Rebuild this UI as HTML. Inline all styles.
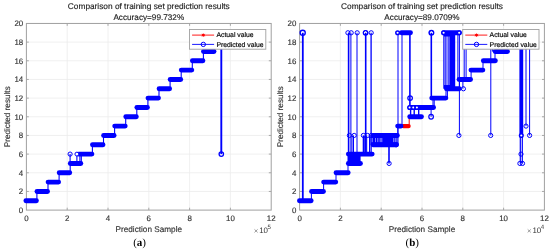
<!DOCTYPE html><html><head><meta charset="utf-8"><style>html,body{margin:0;padding:0;background:#fff;width:550px;height:251px;overflow:hidden}svg{display:block}text{font-family:"Liberation Sans",Arial,sans-serif;text-rendering:geometricPrecision;stroke-width:0.15px;paint-order:stroke}</style></head><body>
<svg width="550" height="251" viewBox="0 0 550 251">
<rect width="550" height="251" fill="#fff"/>
<line x1="67.20" y1="23.45" x2="67.20" y2="210.1" stroke="#ececec" stroke-width="0.8"/>
<line x1="108.00" y1="23.45" x2="108.00" y2="210.1" stroke="#ececec" stroke-width="0.8"/>
<line x1="148.80" y1="23.45" x2="148.80" y2="210.1" stroke="#ececec" stroke-width="0.8"/>
<line x1="189.60" y1="23.45" x2="189.60" y2="210.1" stroke="#ececec" stroke-width="0.8"/>
<line x1="230.40" y1="23.45" x2="230.40" y2="210.1" stroke="#ececec" stroke-width="0.8"/>
<line x1="26.4" y1="191.44" x2="271.2" y2="191.44" stroke="#ececec" stroke-width="0.8"/>
<line x1="26.4" y1="172.77" x2="271.2" y2="172.77" stroke="#ececec" stroke-width="0.8"/>
<line x1="26.4" y1="154.10" x2="271.2" y2="154.10" stroke="#ececec" stroke-width="0.8"/>
<line x1="26.4" y1="135.44" x2="271.2" y2="135.44" stroke="#ececec" stroke-width="0.8"/>
<line x1="26.4" y1="116.77" x2="271.2" y2="116.77" stroke="#ececec" stroke-width="0.8"/>
<line x1="26.4" y1="98.11" x2="271.2" y2="98.11" stroke="#ececec" stroke-width="0.8"/>
<line x1="26.4" y1="79.44" x2="271.2" y2="79.44" stroke="#ececec" stroke-width="0.8"/>
<line x1="26.4" y1="60.78" x2="271.2" y2="60.78" stroke="#ececec" stroke-width="0.8"/>
<line x1="26.4" y1="42.11" x2="271.2" y2="42.11" stroke="#ececec" stroke-width="0.8"/>
<line x1="67.20" y1="210.1" x2="67.20" y2="207.7" stroke="#a0a0a0" stroke-width="0.9"/>
<line x1="67.20" y1="23.45" x2="67.20" y2="25.849999999999998" stroke="#a0a0a0" stroke-width="0.9"/>
<line x1="108.00" y1="210.1" x2="108.00" y2="207.7" stroke="#a0a0a0" stroke-width="0.9"/>
<line x1="108.00" y1="23.45" x2="108.00" y2="25.849999999999998" stroke="#a0a0a0" stroke-width="0.9"/>
<line x1="148.80" y1="210.1" x2="148.80" y2="207.7" stroke="#a0a0a0" stroke-width="0.9"/>
<line x1="148.80" y1="23.45" x2="148.80" y2="25.849999999999998" stroke="#a0a0a0" stroke-width="0.9"/>
<line x1="189.60" y1="210.1" x2="189.60" y2="207.7" stroke="#a0a0a0" stroke-width="0.9"/>
<line x1="189.60" y1="23.45" x2="189.60" y2="25.849999999999998" stroke="#a0a0a0" stroke-width="0.9"/>
<line x1="230.40" y1="210.1" x2="230.40" y2="207.7" stroke="#a0a0a0" stroke-width="0.9"/>
<line x1="230.40" y1="23.45" x2="230.40" y2="25.849999999999998" stroke="#a0a0a0" stroke-width="0.9"/>
<line x1="26.4" y1="191.44" x2="28.799999999999997" y2="191.44" stroke="#a0a0a0" stroke-width="0.9"/>
<line x1="271.2" y1="191.44" x2="268.8" y2="191.44" stroke="#a0a0a0" stroke-width="0.9"/>
<line x1="26.4" y1="172.77" x2="28.799999999999997" y2="172.77" stroke="#a0a0a0" stroke-width="0.9"/>
<line x1="271.2" y1="172.77" x2="268.8" y2="172.77" stroke="#a0a0a0" stroke-width="0.9"/>
<line x1="26.4" y1="154.10" x2="28.799999999999997" y2="154.10" stroke="#a0a0a0" stroke-width="0.9"/>
<line x1="271.2" y1="154.10" x2="268.8" y2="154.10" stroke="#a0a0a0" stroke-width="0.9"/>
<line x1="26.4" y1="135.44" x2="28.799999999999997" y2="135.44" stroke="#a0a0a0" stroke-width="0.9"/>
<line x1="271.2" y1="135.44" x2="268.8" y2="135.44" stroke="#a0a0a0" stroke-width="0.9"/>
<line x1="26.4" y1="116.77" x2="28.799999999999997" y2="116.77" stroke="#a0a0a0" stroke-width="0.9"/>
<line x1="271.2" y1="116.77" x2="268.8" y2="116.77" stroke="#a0a0a0" stroke-width="0.9"/>
<line x1="26.4" y1="98.11" x2="28.799999999999997" y2="98.11" stroke="#a0a0a0" stroke-width="0.9"/>
<line x1="271.2" y1="98.11" x2="268.8" y2="98.11" stroke="#a0a0a0" stroke-width="0.9"/>
<line x1="26.4" y1="79.44" x2="28.799999999999997" y2="79.44" stroke="#a0a0a0" stroke-width="0.9"/>
<line x1="271.2" y1="79.44" x2="268.8" y2="79.44" stroke="#a0a0a0" stroke-width="0.9"/>
<line x1="26.4" y1="60.78" x2="28.799999999999997" y2="60.78" stroke="#a0a0a0" stroke-width="0.9"/>
<line x1="271.2" y1="60.78" x2="268.8" y2="60.78" stroke="#a0a0a0" stroke-width="0.9"/>
<line x1="26.4" y1="42.11" x2="28.799999999999997" y2="42.11" stroke="#a0a0a0" stroke-width="0.9"/>
<line x1="271.2" y1="42.11" x2="268.8" y2="42.11" stroke="#a0a0a0" stroke-width="0.9"/>
<rect x="26.4" y="23.45" width="244.80" height="186.65" fill="none" stroke="#a0a0a0" stroke-width="1"/>
<text x="23.20" y="213.10" font-size="7.9" fill="#333333" stroke="#333333" text-anchor="end">0</text>
<text x="23.20" y="194.44" font-size="7.9" fill="#333333" stroke="#333333" text-anchor="end">2</text>
<text x="23.20" y="175.77" font-size="7.9" fill="#333333" stroke="#333333" text-anchor="end">4</text>
<text x="23.20" y="157.10" font-size="7.9" fill="#333333" stroke="#333333" text-anchor="end">6</text>
<text x="23.20" y="138.44" font-size="7.9" fill="#333333" stroke="#333333" text-anchor="end">8</text>
<text x="23.20" y="119.77" font-size="7.9" fill="#333333" stroke="#333333" text-anchor="end">10</text>
<text x="23.20" y="101.11" font-size="7.9" fill="#333333" stroke="#333333" text-anchor="end">12</text>
<text x="23.20" y="82.44" font-size="7.9" fill="#333333" stroke="#333333" text-anchor="end">14</text>
<text x="23.20" y="63.78" font-size="7.9" fill="#333333" stroke="#333333" text-anchor="end">16</text>
<text x="23.20" y="45.11" font-size="7.9" fill="#333333" stroke="#333333" text-anchor="end">18</text>
<text x="23.20" y="26.45" font-size="7.9" fill="#333333" stroke="#333333" text-anchor="end">20</text>
<text x="26.40" y="221.0" font-size="7.9" fill="#333333" stroke="#333333" text-anchor="middle">0</text>
<text x="67.20" y="221.0" font-size="7.9" fill="#333333" stroke="#333333" text-anchor="middle">2</text>
<text x="108.00" y="221.0" font-size="7.9" fill="#333333" stroke="#333333" text-anchor="middle">4</text>
<text x="148.80" y="221.0" font-size="7.9" fill="#333333" stroke="#333333" text-anchor="middle">6</text>
<text x="189.60" y="221.0" font-size="7.9" fill="#333333" stroke="#333333" text-anchor="middle">8</text>
<text x="230.40" y="221.0" font-size="7.9" fill="#333333" stroke="#333333" text-anchor="middle">10</text>
<text x="271.20" y="221.0" font-size="7.9" fill="#333333" stroke="#333333" text-anchor="middle">12</text>
<g stroke="#7a7a7a" stroke-width="0.75"><line x1="254.50" y1="229.4" x2="257.60" y2="232.4"/><line x1="254.50" y1="232.4" x2="257.60" y2="229.4"/></g>
<text x="259.20" y="232.7" font-size="7.9" fill="#333333">10</text>
<text x="267.60" y="229.0" font-size="6.1" fill="#333333">5</text>
<text x="148.80" y="232.3" font-size="8.2" fill="#333333" stroke="#333333" text-anchor="middle">Prediction Sample</text>
<text transform="translate(9.90 116.77) rotate(-90)" font-size="8.2" fill="#333333" stroke="#333333" text-anchor="middle">Predicted results</text>
<text x="148.80" y="9.2" font-size="8.3" fill="#1e1e1e" stroke="#1e1e1e" text-anchor="middle">Comparison of training set prediction results</text>
<text x="148.80" y="19.7" font-size="8.2" fill="#1e1e1e" stroke="#1e1e1e" text-anchor="middle">Accuracy=99.732%</text>
<text x="139.60" y="246.1" font-size="11" fill="#000" text-anchor="middle" style="font-family:'Liberation Serif',serif">(<tspan font-weight="bold">a</tspan>)</text>
<line x1="340.40" y1="23.45" x2="340.40" y2="210.1" stroke="#ececec" stroke-width="0.8"/>
<line x1="381.20" y1="23.45" x2="381.20" y2="210.1" stroke="#ececec" stroke-width="0.8"/>
<line x1="422.00" y1="23.45" x2="422.00" y2="210.1" stroke="#ececec" stroke-width="0.8"/>
<line x1="462.80" y1="23.45" x2="462.80" y2="210.1" stroke="#ececec" stroke-width="0.8"/>
<line x1="503.60" y1="23.45" x2="503.60" y2="210.1" stroke="#ececec" stroke-width="0.8"/>
<line x1="299.6" y1="191.44" x2="544.4" y2="191.44" stroke="#ececec" stroke-width="0.8"/>
<line x1="299.6" y1="172.77" x2="544.4" y2="172.77" stroke="#ececec" stroke-width="0.8"/>
<line x1="299.6" y1="154.10" x2="544.4" y2="154.10" stroke="#ececec" stroke-width="0.8"/>
<line x1="299.6" y1="135.44" x2="544.4" y2="135.44" stroke="#ececec" stroke-width="0.8"/>
<line x1="299.6" y1="116.77" x2="544.4" y2="116.77" stroke="#ececec" stroke-width="0.8"/>
<line x1="299.6" y1="98.11" x2="544.4" y2="98.11" stroke="#ececec" stroke-width="0.8"/>
<line x1="299.6" y1="79.44" x2="544.4" y2="79.44" stroke="#ececec" stroke-width="0.8"/>
<line x1="299.6" y1="60.78" x2="544.4" y2="60.78" stroke="#ececec" stroke-width="0.8"/>
<line x1="299.6" y1="42.11" x2="544.4" y2="42.11" stroke="#ececec" stroke-width="0.8"/>
<line x1="340.40" y1="210.1" x2="340.40" y2="207.7" stroke="#a0a0a0" stroke-width="0.9"/>
<line x1="340.40" y1="23.45" x2="340.40" y2="25.849999999999998" stroke="#a0a0a0" stroke-width="0.9"/>
<line x1="381.20" y1="210.1" x2="381.20" y2="207.7" stroke="#a0a0a0" stroke-width="0.9"/>
<line x1="381.20" y1="23.45" x2="381.20" y2="25.849999999999998" stroke="#a0a0a0" stroke-width="0.9"/>
<line x1="422.00" y1="210.1" x2="422.00" y2="207.7" stroke="#a0a0a0" stroke-width="0.9"/>
<line x1="422.00" y1="23.45" x2="422.00" y2="25.849999999999998" stroke="#a0a0a0" stroke-width="0.9"/>
<line x1="462.80" y1="210.1" x2="462.80" y2="207.7" stroke="#a0a0a0" stroke-width="0.9"/>
<line x1="462.80" y1="23.45" x2="462.80" y2="25.849999999999998" stroke="#a0a0a0" stroke-width="0.9"/>
<line x1="503.60" y1="210.1" x2="503.60" y2="207.7" stroke="#a0a0a0" stroke-width="0.9"/>
<line x1="503.60" y1="23.45" x2="503.60" y2="25.849999999999998" stroke="#a0a0a0" stroke-width="0.9"/>
<line x1="299.6" y1="191.44" x2="302.0" y2="191.44" stroke="#a0a0a0" stroke-width="0.9"/>
<line x1="544.4" y1="191.44" x2="542.0" y2="191.44" stroke="#a0a0a0" stroke-width="0.9"/>
<line x1="299.6" y1="172.77" x2="302.0" y2="172.77" stroke="#a0a0a0" stroke-width="0.9"/>
<line x1="544.4" y1="172.77" x2="542.0" y2="172.77" stroke="#a0a0a0" stroke-width="0.9"/>
<line x1="299.6" y1="154.10" x2="302.0" y2="154.10" stroke="#a0a0a0" stroke-width="0.9"/>
<line x1="544.4" y1="154.10" x2="542.0" y2="154.10" stroke="#a0a0a0" stroke-width="0.9"/>
<line x1="299.6" y1="135.44" x2="302.0" y2="135.44" stroke="#a0a0a0" stroke-width="0.9"/>
<line x1="544.4" y1="135.44" x2="542.0" y2="135.44" stroke="#a0a0a0" stroke-width="0.9"/>
<line x1="299.6" y1="116.77" x2="302.0" y2="116.77" stroke="#a0a0a0" stroke-width="0.9"/>
<line x1="544.4" y1="116.77" x2="542.0" y2="116.77" stroke="#a0a0a0" stroke-width="0.9"/>
<line x1="299.6" y1="98.11" x2="302.0" y2="98.11" stroke="#a0a0a0" stroke-width="0.9"/>
<line x1="544.4" y1="98.11" x2="542.0" y2="98.11" stroke="#a0a0a0" stroke-width="0.9"/>
<line x1="299.6" y1="79.44" x2="302.0" y2="79.44" stroke="#a0a0a0" stroke-width="0.9"/>
<line x1="544.4" y1="79.44" x2="542.0" y2="79.44" stroke="#a0a0a0" stroke-width="0.9"/>
<line x1="299.6" y1="60.78" x2="302.0" y2="60.78" stroke="#a0a0a0" stroke-width="0.9"/>
<line x1="544.4" y1="60.78" x2="542.0" y2="60.78" stroke="#a0a0a0" stroke-width="0.9"/>
<line x1="299.6" y1="42.11" x2="302.0" y2="42.11" stroke="#a0a0a0" stroke-width="0.9"/>
<line x1="544.4" y1="42.11" x2="542.0" y2="42.11" stroke="#a0a0a0" stroke-width="0.9"/>
<rect x="299.6" y="23.45" width="244.80" height="186.65" fill="none" stroke="#a0a0a0" stroke-width="1"/>
<text x="296.40" y="213.10" font-size="7.9" fill="#333333" stroke="#333333" text-anchor="end">0</text>
<text x="296.40" y="194.44" font-size="7.9" fill="#333333" stroke="#333333" text-anchor="end">2</text>
<text x="296.40" y="175.77" font-size="7.9" fill="#333333" stroke="#333333" text-anchor="end">4</text>
<text x="296.40" y="157.10" font-size="7.9" fill="#333333" stroke="#333333" text-anchor="end">6</text>
<text x="296.40" y="138.44" font-size="7.9" fill="#333333" stroke="#333333" text-anchor="end">8</text>
<text x="296.40" y="119.77" font-size="7.9" fill="#333333" stroke="#333333" text-anchor="end">10</text>
<text x="296.40" y="101.11" font-size="7.9" fill="#333333" stroke="#333333" text-anchor="end">12</text>
<text x="296.40" y="82.44" font-size="7.9" fill="#333333" stroke="#333333" text-anchor="end">14</text>
<text x="296.40" y="63.78" font-size="7.9" fill="#333333" stroke="#333333" text-anchor="end">16</text>
<text x="296.40" y="45.11" font-size="7.9" fill="#333333" stroke="#333333" text-anchor="end">18</text>
<text x="296.40" y="26.45" font-size="7.9" fill="#333333" stroke="#333333" text-anchor="end">20</text>
<text x="299.60" y="221.0" font-size="7.9" fill="#333333" stroke="#333333" text-anchor="middle">0</text>
<text x="340.40" y="221.0" font-size="7.9" fill="#333333" stroke="#333333" text-anchor="middle">2</text>
<text x="381.20" y="221.0" font-size="7.9" fill="#333333" stroke="#333333" text-anchor="middle">4</text>
<text x="422.00" y="221.0" font-size="7.9" fill="#333333" stroke="#333333" text-anchor="middle">6</text>
<text x="462.80" y="221.0" font-size="7.9" fill="#333333" stroke="#333333" text-anchor="middle">8</text>
<text x="503.60" y="221.0" font-size="7.9" fill="#333333" stroke="#333333" text-anchor="middle">10</text>
<text x="544.40" y="221.0" font-size="7.9" fill="#333333" stroke="#333333" text-anchor="middle">12</text>
<g stroke="#7a7a7a" stroke-width="0.75"><line x1="527.70" y1="229.4" x2="530.80" y2="232.4"/><line x1="527.70" y1="232.4" x2="530.80" y2="229.4"/></g>
<text x="532.40" y="232.7" font-size="7.9" fill="#333333">10</text>
<text x="540.80" y="229.0" font-size="6.1" fill="#333333">4</text>
<text x="422.00" y="232.3" font-size="8.2" fill="#333333" stroke="#333333" text-anchor="middle">Prediction Sample</text>
<text transform="translate(283.10 116.77) rotate(-90)" font-size="8.2" fill="#333333" stroke="#333333" text-anchor="middle">Predicted results</text>
<text x="422.00" y="9.2" font-size="8.3" fill="#1e1e1e" stroke="#1e1e1e" text-anchor="middle">Comparison of training set prediction results</text>
<text x="422.00" y="19.7" font-size="8.2" fill="#1e1e1e" stroke="#1e1e1e" text-anchor="middle">Accuracy=89.0709%</text>
<text x="412.30" y="246.1" font-size="11" fill="#000" text-anchor="middle" style="font-family:'Liberation Serif',serif">(<tspan font-weight="bold">b</tspan>)</text>
<line x1="36.90" y1="200.77" x2="36.90" y2="191.44" stroke="#0000ff" stroke-width="1.1"/>
<line x1="48.00" y1="191.44" x2="48.00" y2="182.10" stroke="#0000ff" stroke-width="1.1"/>
<line x1="59.10" y1="182.10" x2="59.10" y2="172.77" stroke="#0000ff" stroke-width="1.1"/>
<line x1="70.20" y1="172.77" x2="70.20" y2="163.44" stroke="#0000ff" stroke-width="1.1"/>
<line x1="81.30" y1="163.44" x2="81.30" y2="154.10" stroke="#0000ff" stroke-width="1.1"/>
<line x1="92.40" y1="154.10" x2="92.40" y2="144.77" stroke="#0000ff" stroke-width="1.1"/>
<line x1="103.50" y1="144.77" x2="103.50" y2="135.44" stroke="#0000ff" stroke-width="1.1"/>
<line x1="114.60" y1="135.44" x2="114.60" y2="126.11" stroke="#0000ff" stroke-width="1.1"/>
<line x1="125.70" y1="126.11" x2="125.70" y2="116.77" stroke="#0000ff" stroke-width="1.1"/>
<line x1="136.80" y1="116.77" x2="136.80" y2="107.44" stroke="#0000ff" stroke-width="1.1"/>
<line x1="147.90" y1="107.44" x2="147.90" y2="98.11" stroke="#0000ff" stroke-width="1.1"/>
<line x1="159.00" y1="98.11" x2="159.00" y2="88.78" stroke="#0000ff" stroke-width="1.1"/>
<line x1="170.10" y1="88.78" x2="170.10" y2="79.44" stroke="#0000ff" stroke-width="1.1"/>
<line x1="181.20" y1="79.44" x2="181.20" y2="70.11" stroke="#0000ff" stroke-width="1.1"/>
<line x1="192.30" y1="70.11" x2="192.30" y2="60.78" stroke="#0000ff" stroke-width="1.1"/>
<line x1="203.40" y1="60.78" x2="203.40" y2="51.45" stroke="#0000ff" stroke-width="1.1"/>
<line x1="214.50" y1="51.45" x2="214.50" y2="42.11" stroke="#0000ff" stroke-width="1.1"/>
<line x1="225.60" y1="42.11" x2="225.60" y2="32.78" stroke="#0000ff" stroke-width="1.1"/>
<line x1="25.90" y1="200.77" x2="36.40" y2="200.77" stroke="#0000ff" stroke-width="4.9" stroke-linecap="round"/>
<line x1="37.00" y1="191.44" x2="47.50" y2="191.44" stroke="#0000ff" stroke-width="4.9" stroke-linecap="round"/>
<line x1="48.10" y1="182.10" x2="58.60" y2="182.10" stroke="#0000ff" stroke-width="4.9" stroke-linecap="round"/>
<line x1="59.20" y1="172.77" x2="69.70" y2="172.77" stroke="#0000ff" stroke-width="4.9" stroke-linecap="round"/>
<line x1="70.30" y1="163.44" x2="80.80" y2="163.44" stroke="#0000ff" stroke-width="4.9" stroke-linecap="round"/>
<line x1="78.60" y1="154.10" x2="91.90" y2="154.10" stroke="#0000ff" stroke-width="4.9" stroke-linecap="round"/>
<line x1="92.50" y1="144.77" x2="103.00" y2="144.77" stroke="#0000ff" stroke-width="4.9" stroke-linecap="round"/>
<line x1="103.60" y1="135.44" x2="114.10" y2="135.44" stroke="#0000ff" stroke-width="4.9" stroke-linecap="round"/>
<line x1="114.70" y1="126.11" x2="125.20" y2="126.11" stroke="#0000ff" stroke-width="4.9" stroke-linecap="round"/>
<line x1="125.80" y1="116.77" x2="136.30" y2="116.77" stroke="#0000ff" stroke-width="4.9" stroke-linecap="round"/>
<line x1="136.90" y1="107.44" x2="147.40" y2="107.44" stroke="#0000ff" stroke-width="4.9" stroke-linecap="round"/>
<line x1="148.00" y1="98.11" x2="158.50" y2="98.11" stroke="#0000ff" stroke-width="4.9" stroke-linecap="round"/>
<line x1="159.10" y1="88.78" x2="169.60" y2="88.78" stroke="#0000ff" stroke-width="4.9" stroke-linecap="round"/>
<line x1="170.20" y1="79.44" x2="180.70" y2="79.44" stroke="#0000ff" stroke-width="4.9" stroke-linecap="round"/>
<line x1="181.30" y1="70.11" x2="191.80" y2="70.11" stroke="#0000ff" stroke-width="4.9" stroke-linecap="round"/>
<line x1="192.40" y1="60.78" x2="202.90" y2="60.78" stroke="#0000ff" stroke-width="4.9" stroke-linecap="round"/>
<line x1="203.50" y1="51.45" x2="214.00" y2="51.45" stroke="#0000ff" stroke-width="4.9" stroke-linecap="round"/>
<line x1="214.60" y1="42.11" x2="225.10" y2="42.11" stroke="#0000ff" stroke-width="4.9" stroke-linecap="round"/>
<line x1="225.70" y1="32.78" x2="236.20" y2="32.78" stroke="#0000ff" stroke-width="4.9" stroke-linecap="round"/>
<line x1="70.10" y1="163.44" x2="70.10" y2="154.10" stroke="#0000ff" stroke-width="1.1"/>
<circle cx="70.10" cy="154.10" r="2.1" fill="none" stroke="#0000ff" stroke-width="1.0"/>
<line x1="76.90" y1="163.44" x2="76.90" y2="154.10" stroke="#0000ff" stroke-width="1.1"/>
<line x1="79.90" y1="163.44" x2="79.90" y2="154.10" stroke="#0000ff" stroke-width="1.1"/>
<circle cx="76.9" cy="154.10" r="1.95" fill="#fff" stroke="#0000ff" stroke-width="1.0"/>
<line x1="221.30" y1="42.11" x2="221.30" y2="154.10" stroke="#0000ff" stroke-width="1.9"/>
<circle cx="221.3" cy="154.10" r="2.2" fill="none" stroke="#0000ff" stroke-width="1.3"/>
<line x1="403.45" y1="126.11" x2="408.55" y2="126.11" stroke="#ff0000" stroke-width="4.4" stroke-linecap="round"/>
<line x1="409.20" y1="126.11" x2="409.20" y2="116.77" stroke="#ff0000" stroke-width="1.0"/>
<line x1="311.40" y1="200.77" x2="311.40" y2="191.44" stroke="#0000ff" stroke-width="1.0"/>
<line x1="323.60" y1="191.44" x2="323.60" y2="182.10" stroke="#0000ff" stroke-width="1.0"/>
<line x1="336.00" y1="182.10" x2="336.00" y2="172.77" stroke="#0000ff" stroke-width="1.0"/>
<line x1="348.00" y1="172.77" x2="348.00" y2="163.44" stroke="#0000ff" stroke-width="1.0"/>
<line x1="397.80" y1="135.44" x2="397.80" y2="126.11" stroke="#0000ff" stroke-width="1.0"/>
<line x1="433.00" y1="107.44" x2="433.00" y2="98.11" stroke="#0000ff" stroke-width="1.0"/>
<line x1="434.20" y1="107.44" x2="434.20" y2="98.11" stroke="#0000ff" stroke-width="1.0"/>
<line x1="446.00" y1="98.11" x2="446.00" y2="88.78" stroke="#0000ff" stroke-width="1.0"/>
<line x1="447.40" y1="98.11" x2="447.40" y2="88.78" stroke="#0000ff" stroke-width="1.0"/>
<line x1="459.40" y1="88.78" x2="459.40" y2="79.44" stroke="#0000ff" stroke-width="1.0"/>
<line x1="471.10" y1="79.44" x2="471.10" y2="70.11" stroke="#0000ff" stroke-width="1.0"/>
<line x1="483.00" y1="70.11" x2="483.00" y2="60.78" stroke="#0000ff" stroke-width="1.0"/>
<line x1="495.00" y1="60.78" x2="495.00" y2="51.45" stroke="#0000ff" stroke-width="1.0"/>
<rect x="347.50" y="154.10" width="13.10" height="9.33" fill="#0000ff"/>
<rect x="370.50" y="135.44" width="28.00" height="9.33" fill="#0000ff"/>
<rect x="443.30" y="32.78" width="11.90" height="55.99" fill="#0000ff"/>
<rect x="519.40" y="32.78" width="3.80" height="102.66" fill="#0000ff"/>
<line x1="302.80" y1="200.77" x2="302.80" y2="32.78" stroke="#0000ff" stroke-width="1.8"/>
<line x1="348.60" y1="154.10" x2="348.60" y2="32.78" stroke="#0000ff" stroke-width="1.6"/>
<line x1="350.90" y1="154.10" x2="350.90" y2="32.78" stroke="#0000ff" stroke-width="1.0"/>
<line x1="357.00" y1="154.10" x2="357.00" y2="32.78" stroke="#0000ff" stroke-width="1.0"/>
<line x1="365.70" y1="154.10" x2="365.70" y2="32.78" stroke="#0000ff" stroke-width="1.6"/>
<line x1="371.10" y1="154.10" x2="371.10" y2="32.78" stroke="#0000ff" stroke-width="1.3"/>
<line x1="352.00" y1="154.10" x2="352.00" y2="135.44" stroke="#0000ff" stroke-width="1.0"/>
<line x1="353.50" y1="154.10" x2="353.50" y2="135.44" stroke="#0000ff" stroke-width="1.0"/>
<line x1="363.50" y1="154.10" x2="363.50" y2="135.44" stroke="#0000ff" stroke-width="1.6"/>
<line x1="364.80" y1="154.10" x2="364.80" y2="135.44" stroke="#0000ff" stroke-width="1.0"/>
<line x1="366.70" y1="154.10" x2="366.70" y2="135.44" stroke="#0000ff" stroke-width="1.0"/>
<line x1="369.50" y1="154.10" x2="369.50" y2="135.44" stroke="#0000ff" stroke-width="1.0"/>
<line x1="398.00" y1="135.44" x2="398.00" y2="32.78" stroke="#0000ff" stroke-width="1.0"/>
<line x1="402.00" y1="126.11" x2="402.00" y2="32.78" stroke="#0000ff" stroke-width="1.0"/>
<line x1="409.90" y1="107.44" x2="409.90" y2="32.78" stroke="#0000ff" stroke-width="1.6"/>
<line x1="431.30" y1="98.11" x2="431.30" y2="32.78" stroke="#0000ff" stroke-width="1.6"/>
<line x1="431.10" y1="116.77" x2="431.10" y2="107.44" stroke="#0000ff" stroke-width="1.0"/>
<line x1="459.40" y1="135.44" x2="459.40" y2="32.78" stroke="#0000ff" stroke-width="1.0"/>
<line x1="457.90" y1="79.44" x2="457.90" y2="32.78" stroke="#0000ff" stroke-width="1.0"/>
<line x1="462.90" y1="88.78" x2="462.90" y2="79.44" stroke="#0000ff" stroke-width="1.0"/>
<line x1="464.20" y1="79.44" x2="464.20" y2="32.78" stroke="#0000ff" stroke-width="1.0"/>
<line x1="466.10" y1="79.44" x2="466.10" y2="32.78" stroke="#0000ff" stroke-width="1.0"/>
<line x1="490.80" y1="135.44" x2="490.80" y2="32.78" stroke="#0000ff" stroke-width="1.0"/>
<line x1="492.40" y1="51.45" x2="492.40" y2="32.78" stroke="#0000ff" stroke-width="1.0"/>
<line x1="526.00" y1="126.11" x2="526.00" y2="32.78" stroke="#0000ff" stroke-width="1.0"/>
<line x1="529.60" y1="135.44" x2="529.60" y2="32.78" stroke="#0000ff" stroke-width="1.0"/>
<line x1="389.00" y1="163.44" x2="389.00" y2="144.77" stroke="#0000ff" stroke-width="1.6"/>
<line x1="520.30" y1="163.44" x2="520.30" y2="135.44" stroke="#0000ff" stroke-width="1.2"/>
<line x1="522.30" y1="163.44" x2="522.30" y2="135.44" stroke="#0000ff" stroke-width="1.2"/>
<line x1="444.8" y1="36.52" x2="444.8" y2="85.04" stroke="#fff" stroke-width="0.75" opacity="0.85"/>
<line x1="446.3" y1="36.52" x2="446.3" y2="85.04" stroke="#fff" stroke-width="0.75" opacity="0.85"/>
<line x1="447.6" y1="36.52" x2="447.6" y2="85.04" stroke="#fff" stroke-width="0.75" opacity="0.85"/>
<line x1="449.0" y1="36.52" x2="449.0" y2="85.04" stroke="#fff" stroke-width="0.75" opacity="0.85"/>
<line x1="372.2" y1="137.77" x2="372.2" y2="142.44" stroke="#fff" stroke-width="0.7" opacity="0.8"/>
<line x1="375.4" y1="137.77" x2="375.4" y2="142.44" stroke="#fff" stroke-width="0.7" opacity="0.8"/>
<line x1="377.8" y1="137.77" x2="377.8" y2="142.44" stroke="#fff" stroke-width="0.7" opacity="0.8"/>
<line x1="380.2" y1="137.77" x2="380.2" y2="142.44" stroke="#fff" stroke-width="0.7" opacity="0.8"/>
<line x1="381.8" y1="137.77" x2="381.8" y2="142.44" stroke="#fff" stroke-width="0.7" opacity="0.8"/>
<line x1="393.7" y1="137.77" x2="393.7" y2="142.44" stroke="#fff" stroke-width="0.7" opacity="0.8"/>
<line x1="395.3" y1="137.77" x2="395.3" y2="142.44" stroke="#fff" stroke-width="0.7" opacity="0.8"/>
<line x1="397.0" y1="137.77" x2="397.0" y2="142.44" stroke="#fff" stroke-width="0.7" opacity="0.8"/>
<line x1="299.45" y1="200.77" x2="311.15" y2="200.77" stroke="#0000ff" stroke-width="4.9" stroke-linecap="round"/>
<line x1="311.55" y1="191.44" x2="323.45" y2="191.44" stroke="#0000ff" stroke-width="4.9" stroke-linecap="round"/>
<line x1="323.65" y1="182.10" x2="335.75" y2="182.10" stroke="#0000ff" stroke-width="4.9" stroke-linecap="round"/>
<line x1="336.05" y1="172.77" x2="348.15" y2="172.77" stroke="#0000ff" stroke-width="4.9" stroke-linecap="round"/>
<line x1="348.35" y1="163.44" x2="360.45" y2="163.44" stroke="#0000ff" stroke-width="4.9" stroke-linecap="round"/>
<line x1="348.35" y1="154.10" x2="372.15" y2="154.10" stroke="#0000ff" stroke-width="4.9" stroke-linecap="round"/>
<line x1="372.95" y1="144.77" x2="396.55" y2="144.77" stroke="#0000ff" stroke-width="4.9" stroke-linecap="round"/>
<line x1="372.95" y1="135.44" x2="397.35" y2="135.44" stroke="#0000ff" stroke-width="4.9" stroke-linecap="round"/>
<line x1="397.65" y1="126.11" x2="401.05" y2="126.11" stroke="#0000ff" stroke-width="4.9" stroke-linecap="round"/>
<line x1="409.75" y1="116.77" x2="421.45" y2="116.77" stroke="#0000ff" stroke-width="4.9" stroke-linecap="round"/>
<line x1="410.35" y1="107.44" x2="433.55" y2="107.44" stroke="#0000ff" stroke-width="4.9" stroke-linecap="round"/>
<line x1="431.75" y1="98.11" x2="445.85" y2="98.11" stroke="#0000ff" stroke-width="4.9" stroke-linecap="round"/>
<line x1="446.45" y1="88.78" x2="459.15" y2="88.78" stroke="#0000ff" stroke-width="4.9" stroke-linecap="round"/>
<line x1="459.05" y1="79.44" x2="470.55" y2="79.44" stroke="#0000ff" stroke-width="4.9" stroke-linecap="round"/>
<line x1="470.95" y1="70.11" x2="482.85" y2="70.11" stroke="#0000ff" stroke-width="4.9" stroke-linecap="round"/>
<line x1="483.35" y1="60.78" x2="495.35" y2="60.78" stroke="#0000ff" stroke-width="4.9" stroke-linecap="round"/>
<line x1="495.15" y1="51.45" x2="507.45" y2="51.45" stroke="#0000ff" stroke-width="4.9" stroke-linecap="round"/>
<line x1="507.25" y1="42.11" x2="519.55" y2="42.11" stroke="#0000ff" stroke-width="4.9" stroke-linecap="round"/>
<line x1="401.45" y1="32.78" x2="410.45" y2="32.78" stroke="#0000ff" stroke-width="4.9" stroke-linecap="round"/>
<line x1="443.65" y1="32.78" x2="459.35" y2="32.78" stroke="#0000ff" stroke-width="4.9" stroke-linecap="round"/>
<line x1="410.60" y1="116.77" x2="410.60" y2="107.44" stroke="#0000ff" stroke-width="1.4"/>
<line x1="414.20" y1="116.77" x2="414.20" y2="107.44" stroke="#0000ff" stroke-width="1.4"/>
<line x1="418.70" y1="116.77" x2="418.70" y2="107.44" stroke="#0000ff" stroke-width="1.4"/>
<circle cx="347.90" cy="32.78" r="2.1" fill="none" stroke="#0000ff" stroke-width="1.0"/>
<circle cx="351.20" cy="32.78" r="2.1" fill="none" stroke="#0000ff" stroke-width="1.0"/>
<circle cx="357.20" cy="32.78" r="2.1" fill="none" stroke="#0000ff" stroke-width="1.0"/>
<circle cx="365.50" cy="32.78" r="2.1" fill="none" stroke="#0000ff" stroke-width="1.0"/>
<circle cx="371.20" cy="32.78" r="2.1" fill="none" stroke="#0000ff" stroke-width="1.0"/>
<circle cx="431.40" cy="32.78" r="2.1" fill="none" stroke="#0000ff" stroke-width="1.0"/>
<circle cx="349.40" cy="135.44" r="2.1" fill="none" stroke="#0000ff" stroke-width="1.0"/>
<circle cx="354.20" cy="135.44" r="2.1" fill="none" stroke="#0000ff" stroke-width="1.0"/>
<circle cx="363.40" cy="135.44" r="2.1" fill="none" stroke="#0000ff" stroke-width="1.0"/>
<circle cx="367.50" cy="135.44" r="2.1" fill="none" stroke="#0000ff" stroke-width="1.0"/>
<circle cx="371.30" cy="135.44" r="2.1" fill="none" stroke="#0000ff" stroke-width="1.0"/>
<circle cx="396.10" cy="144.77" r="2.1" fill="none" stroke="#0000ff" stroke-width="1.0"/>
<circle cx="458.90" cy="135.44" r="2.1" fill="none" stroke="#0000ff" stroke-width="1.0"/>
<circle cx="463.40" cy="88.78" r="2.1" fill="none" stroke="#0000ff" stroke-width="1.0"/>
<circle cx="490.70" cy="135.44" r="2.1" fill="none" stroke="#0000ff" stroke-width="1.0"/>
<circle cx="529.60" cy="135.44" r="2.1" fill="none" stroke="#0000ff" stroke-width="1.0"/>
<circle cx="526.00" cy="126.11" r="2.1" fill="none" stroke="#0000ff" stroke-width="1.0"/>
<circle cx="521.00" cy="154.10" r="2.1" fill="none" stroke="#0000ff" stroke-width="1.0"/>
<circle cx="389.10" cy="163.44" r="2.1" fill="none" stroke="#0000ff" stroke-width="1.0"/>
<circle cx="519.90" cy="163.44" r="2.1" fill="none" stroke="#0000ff" stroke-width="1.0"/>
<circle cx="522.50" cy="163.44" r="2.1" fill="none" stroke="#0000ff" stroke-width="1.0"/>
<circle cx="521.3" cy="135.44" r="1.8" fill="#fff" stroke="#0000ff" stroke-width="1.5"/>
<circle cx="397.6" cy="32.78" r="1.8" fill="#fff" stroke="#0000ff" stroke-width="1.5"/>
<circle cx="443.6" cy="32.78" r="1.8" fill="#fff" stroke="#0000ff" stroke-width="1.5"/>
<circle cx="459.2" cy="32.78" r="1.8" fill="#fff" stroke="#0000ff" stroke-width="1.5"/>
<circle cx="409.6" cy="107.44" r="1.8" fill="#fff" stroke="#0000ff" stroke-width="1.5"/>
<circle cx="413.3" cy="107.44" r="1.8" fill="#fff" stroke="#0000ff" stroke-width="1.5"/>
<circle cx="416.9" cy="107.44" r="1.8" fill="#fff" stroke="#0000ff" stroke-width="1.5"/>
<circle cx="302.7" cy="32.78" r="2.55" fill="none" stroke="#0000ff" stroke-width="1.35"/>
<circle cx="431.4" cy="32.78" r="2.35" fill="none" stroke="#0000ff" stroke-width="1.25"/>
<circle cx="365.6" cy="32.78" r="2.3" fill="none" stroke="#0000ff" stroke-width="1.2"/>
<circle cx="410.1" cy="98.11" r="2.3" fill="none" stroke="#0000ff" stroke-width="1.2"/>
<circle cx="431.1" cy="116.77" r="2.3" fill="none" stroke="#0000ff" stroke-width="1.2"/>
<rect x="189.5" y="29.5" width="76.30" height="19.70" fill="#fff" stroke="#a0a0a0" stroke-width="0.9"/>
<line x1="192.10" y1="35.10" x2="214.10" y2="35.10" stroke="#ff0000" stroke-width="0.9"/>
<g stroke="#ff0000" stroke-width="0.9"><line x1="201.70" y1="35.10" x2="204.90" y2="35.10"/><line x1="203.30" y1="33.50" x2="203.30" y2="36.70"/><line x1="202.10" y1="33.90" x2="204.50" y2="36.30"/><line x1="202.10" y1="36.30" x2="204.50" y2="33.90"/></g><circle cx="203.30" cy="35.10" r="1.2" fill="#ff0000"/>
<line x1="192.10" y1="44.40" x2="214.10" y2="44.40" stroke="#0000ff" stroke-width="0.9"/>
<circle cx="203.30" cy="44.40" r="2.2" fill="none" stroke="#0000ff" stroke-width="1.0"/>
<text x="216.40" y="37.35" font-size="6.85" fill="#000" stroke="#000">Actual value</text>
<text x="216.40" y="46.65" font-size="6.85" fill="#000" stroke="#000">Predicted value</text>
<rect x="462.7" y="29.5" width="76.30" height="19.70" fill="#fff" stroke="#a0a0a0" stroke-width="0.9"/>
<line x1="465.30" y1="35.10" x2="487.30" y2="35.10" stroke="#ff0000" stroke-width="0.9"/>
<g stroke="#ff0000" stroke-width="0.9"><line x1="474.90" y1="35.10" x2="478.10" y2="35.10"/><line x1="476.50" y1="33.50" x2="476.50" y2="36.70"/><line x1="475.30" y1="33.90" x2="477.70" y2="36.30"/><line x1="475.30" y1="36.30" x2="477.70" y2="33.90"/></g><circle cx="476.50" cy="35.10" r="1.2" fill="#ff0000"/>
<line x1="465.30" y1="44.40" x2="487.30" y2="44.40" stroke="#0000ff" stroke-width="0.9"/>
<circle cx="476.50" cy="44.40" r="2.2" fill="none" stroke="#0000ff" stroke-width="1.0"/>
<text x="489.60" y="37.35" font-size="6.85" fill="#000" stroke="#000">Actual value</text>
<text x="489.60" y="46.65" font-size="6.85" fill="#000" stroke="#000">Predicted value</text>
</svg></body></html>
